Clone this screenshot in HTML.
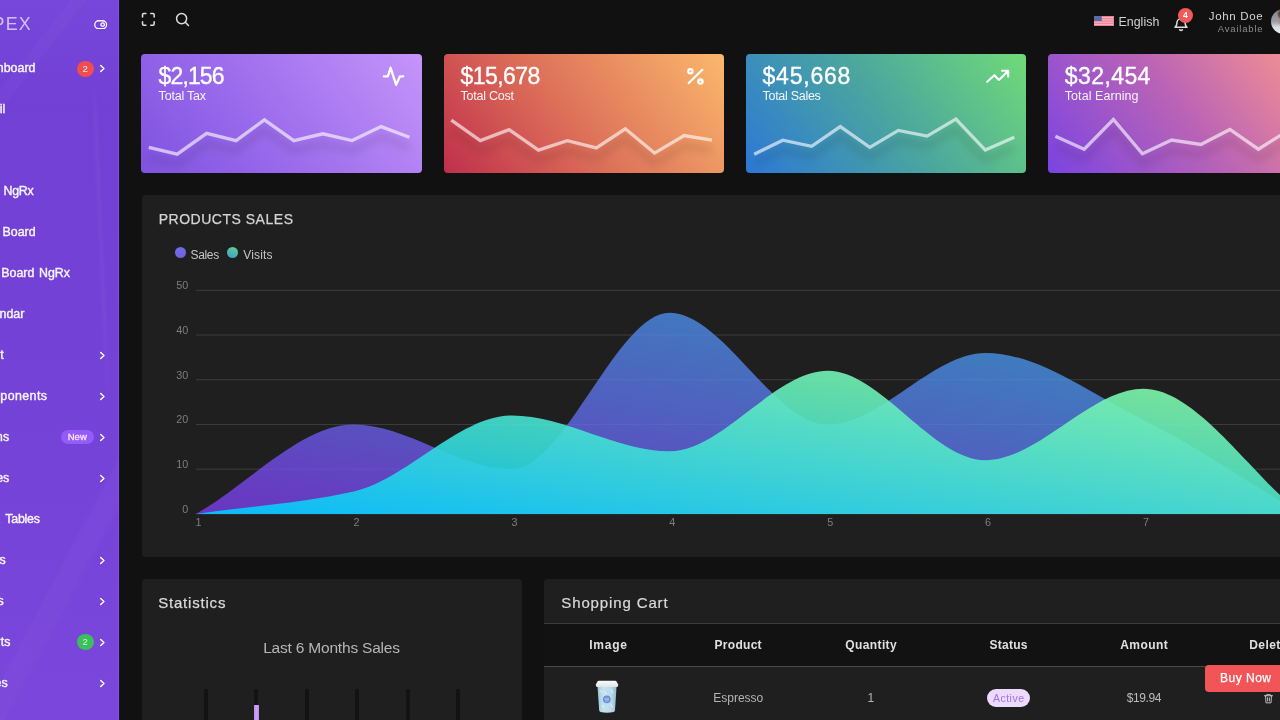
<!DOCTYPE html>
<html lang="en"><head><meta charset="utf-8"><title>Apex Dashboard</title>
<style>
*{box-sizing:border-box;margin:0;padding:0}
html,body{width:1280px;height:720px;overflow:hidden;background:#111111;font-family:"Liberation Sans",Arial,sans-serif}
body{position:relative}
.t{position:absolute;white-space:nowrap;line-height:1;display:block}
.abs{position:absolute}
#sidebar{position:absolute;left:0;top:0;width:119px;height:720px;overflow:hidden;
 background:
  linear-gradient(128deg, rgba(255,255,255,0) 54px, rgba(255,255,255,.022) 57px, rgba(255,255,255,.022) 67px, rgba(255,255,255,0) 69px),
  linear-gradient(118deg, rgba(255,255,255,0) 318px, rgba(255,255,255,.02) 322px, rgba(255,255,255,.02) 340px, rgba(255,255,255,0) 346px),
  linear-gradient(180deg, #7746da 0%, #7240d5 14%, #7341d6 40%, #7a46db 100%);
 box-shadow:inset -1px 0 0 rgba(140,120,200,.35), 1px 0 0 #1a0f3a}
.card{position:absolute;background:#1f1f1f;border-radius:3.5px}
.stat{position:absolute;top:54px;height:118.6px;width:279.9px;border-radius:4px;overflow:hidden}
.badge{position:absolute;border-radius:50%;color:#fff;text-align:center}
</style></head><body>

<div id="sidebar">
<div class="abs" style="left:89px;top:77px;width:9px;height:340px;transform-origin:50% 0;transform:rotate(-2.5deg);background:linear-gradient(90deg,rgba(255,255,255,0),rgba(255,255,255,.04) 55%,rgba(255,255,255,0));-webkit-mask-image:linear-gradient(180deg,transparent,#000 12%,#000 70%,transparent)"></div>
<span class="t" id="logo" style="right:87.10px;top:15.65px;font-size:17.9px;color:rgba(255,255,255,.66);font-weight:400;letter-spacing:0.000px;letter-spacing:1.2px">APEX</span>
<svg class="abs" style="left:94.4px;top:20px" width="13.3" height="9.4" viewBox="0 0 27 19" fill="none" stroke="#fff" stroke-width="2.6"><rect x="1.5" y="1.5" width="24" height="16" rx="8"/><circle cx="17.6" cy="9.5" r="3.5"/></svg>
<span class="t" id="nav0" style="right:83.60px;top:62.20px;font-size:12.4px;color:#fff;font-weight:400;letter-spacing:0.000px;opacity:.95;-webkit-text-stroke:.4px #fff;word-spacing:1.2px">Dashboard</span>
<svg class="abs" style="left:99px;top:64.0px" width="7" height="9" viewBox="0 0 7 9" fill="none" stroke="#fff" stroke-width="1.5" stroke-linecap="round" stroke-linejoin="round"><path d="M1.7 1.5 L4.9 4.5 L1.7 7.5"/></svg>
<div class="badge" style="left:76.6px;top:60.5px;width:17.3px;height:16.6px;background:#f04e4e;font-size:9.6px;line-height:16.8px;color:#ffe6e6">2</div>
<span class="t" id="nav1" style="right:113.80px;top:103.20px;font-size:12.4px;color:#fff;font-weight:400;letter-spacing:0.000px;opacity:.95;-webkit-text-stroke:.4px #fff;word-spacing:1.2px">Email</span>
<span class="t" id="nav2" style="right:122.00px;top:144.20px;font-size:12.4px;color:#fff;font-weight:400;letter-spacing:0.000px;opacity:.95;-webkit-text-stroke:.4px #fff;word-spacing:1.2px">Chat</span>
<span class="t" id="nav3" style="right:85.40px;top:185.20px;font-size:12.4px;color:#fff;font-weight:400;letter-spacing:-0.200px;opacity:.95;-webkit-text-stroke:.4px #fff;word-spacing:1.2px">Chat NgRx</span>
<span class="t" id="nav4" style="right:83.40px;top:226.20px;font-size:12.4px;color:#fff;font-weight:400;letter-spacing:0.000px;opacity:.95;-webkit-text-stroke:.4px #fff;word-spacing:1.2px">Task Board</span>
<span class="t" id="nav5" style="right:49.00px;top:267.20px;font-size:12.4px;color:#fff;font-weight:400;letter-spacing:0.000px;opacity:.95;-webkit-text-stroke:.4px #fff;word-spacing:1.2px">Task Board NgRx</span>
<span class="t" id="nav6" style="right:94.70px;top:308.20px;font-size:12.4px;color:#fff;font-weight:400;letter-spacing:0.000px;opacity:.95;-webkit-text-stroke:.4px #fff;word-spacing:1.2px">Calendar</span>
<span class="t" id="nav7" style="right:115.30px;top:349.20px;font-size:12.4px;color:#fff;font-weight:400;letter-spacing:0.000px;opacity:.95;-webkit-text-stroke:.4px #fff;word-spacing:1.2px">UI Kit</span>
<svg class="abs" style="left:99px;top:351.0px" width="7" height="9" viewBox="0 0 7 9" fill="none" stroke="#fff" stroke-width="1.5" stroke-linecap="round" stroke-linejoin="round"><path d="M1.7 1.5 L4.9 4.5 L1.7 7.5"/></svg>
<span class="t" id="nav8" style="right:71.58px;top:390.20px;font-size:12.4px;color:#fff;font-weight:400;letter-spacing:0.420px;opacity:.95;-webkit-text-stroke:.4px #fff;word-spacing:1.2px">Components</span>
<svg class="abs" style="left:99px;top:392.0px" width="7" height="9" viewBox="0 0 7 9" fill="none" stroke="#fff" stroke-width="1.5" stroke-linecap="round" stroke-linejoin="round"><path d="M1.7 1.5 L4.9 4.5 L1.7 7.5"/></svg>
<span class="t" id="nav9" style="right:109.40px;top:431.20px;font-size:12.4px;color:#fff;font-weight:400;letter-spacing:0.300px;opacity:.95;-webkit-text-stroke:.4px #fff;word-spacing:1.2px">Forms</span>
<svg class="abs" style="left:99px;top:433.0px" width="7" height="9" viewBox="0 0 7 9" fill="none" stroke="#fff" stroke-width="1.5" stroke-linecap="round" stroke-linejoin="round"><path d="M1.7 1.5 L4.9 4.5 L1.7 7.5"/></svg>
<div class="badge" style="left:60.5px;top:429.9px;width:33.5px;height:14.6px;border-radius:8px;background:#945afa;font-size:9.5px;line-height:14.6px;font-weight:400;color:#f8e4ff;-webkit-text-stroke:.3px #f8e4ff">New</div>
<span class="t" id="nav10" style="right:109.70px;top:472.20px;font-size:12.4px;color:#fff;font-weight:400;letter-spacing:0.000px;opacity:.95;-webkit-text-stroke:.4px #fff;word-spacing:1.2px">Tables</span>
<svg class="abs" style="left:99px;top:474.0px" width="7" height="9" viewBox="0 0 7 9" fill="none" stroke="#fff" stroke-width="1.5" stroke-linecap="round" stroke-linejoin="round"><path d="M1.7 1.5 L4.9 4.5 L1.7 7.5"/></svg>
<span class="t" id="nav11" style="right:79.20px;top:513.20px;font-size:12.4px;color:#fff;font-weight:400;letter-spacing:-0.200px;opacity:.95;-webkit-text-stroke:.4px #fff;word-spacing:2.6px">Data Tables</span>
<span class="t" id="nav12" style="right:113.40px;top:554.20px;font-size:12.4px;color:#fff;font-weight:400;letter-spacing:0.000px;opacity:.95;-webkit-text-stroke:.4px #fff;word-spacing:1.2px">Cards</span>
<svg class="abs" style="left:99px;top:556.0px" width="7" height="9" viewBox="0 0 7 9" fill="none" stroke="#fff" stroke-width="1.5" stroke-linecap="round" stroke-linejoin="round"><path d="M1.7 1.5 L4.9 4.5 L1.7 7.5"/></svg>
<span class="t" id="nav13" style="right:115.20px;top:595.20px;font-size:12.4px;color:#fff;font-weight:400;letter-spacing:0.000px;opacity:.95;-webkit-text-stroke:.4px #fff;word-spacing:1.2px">Maps</span>
<svg class="abs" style="left:99px;top:597.0px" width="7" height="9" viewBox="0 0 7 9" fill="none" stroke="#fff" stroke-width="1.5" stroke-linecap="round" stroke-linejoin="round"><path d="M1.7 1.5 L4.9 4.5 L1.7 7.5"/></svg>
<span class="t" id="nav14" style="right:108.30px;top:636.20px;font-size:12.4px;color:#fff;font-weight:400;letter-spacing:0.200px;opacity:.95;-webkit-text-stroke:.4px #fff;word-spacing:1.2px">Charts</span>
<svg class="abs" style="left:99px;top:638.0px" width="7" height="9" viewBox="0 0 7 9" fill="none" stroke="#fff" stroke-width="1.5" stroke-linecap="round" stroke-linejoin="round"><path d="M1.7 1.5 L4.9 4.5 L1.7 7.5"/></svg>
<div class="badge" style="left:76.6px;top:633.5px;width:17.3px;height:16.6px;background:#3cbe5c;font-size:9.6px;line-height:16.8px;color:#c8ffc8">2</div>
<span class="t" id="nav15" style="right:111.40px;top:677.20px;font-size:12.4px;color:#fff;font-weight:400;letter-spacing:0.000px;opacity:.95;-webkit-text-stroke:.4px #fff;word-spacing:1.2px">Pages</span>
<svg class="abs" style="left:99px;top:679.0px" width="7" height="9" viewBox="0 0 7 9" fill="none" stroke="#fff" stroke-width="1.5" stroke-linecap="round" stroke-linejoin="round"><path d="M1.7 1.5 L4.9 4.5 L1.7 7.5"/></svg>
</div>
<svg class="abs" style="left:141.1px;top:12.3px" width="14.7" height="14.7" viewBox="0 0 24 24" fill="none" stroke="#dedede" stroke-width="2.5" stroke-linecap="round" stroke-linejoin="round"><path d="M8 2.5H4.5a2 2 0 0 0-2 2V8M21.5 8V4.5a2 2 0 0 0-2-2H16M16 21.5h3.5a2 2 0 0 0 2-2V16M2.5 16v3.5a2 2 0 0 0 2 2H8"/></svg>
<svg class="abs" style="left:175.1px;top:12.1px" width="15.1" height="15.1" viewBox="0 0 24 24" fill="none" stroke="#dedede" stroke-width="2.4" stroke-linecap="round" stroke-linejoin="round"><circle cx="10.5" cy="10.5" r="8"/><path d="M21.4 21.4l-5-5"/></svg>
<svg class="abs" style="left:1094.3px;top:16.1px" width="19.8" height="10" viewBox="0 0 19.8 10">
<rect width="19.8" height="10" fill="#f6bcc6"/>
<g fill="#ee7d90"><rect y="0" width="19.8" height="1.1"/><rect y="2.2" width="19.8" height="1.2"/><rect y="4.5" width="19.8" height="1.2"/><rect y="6.7" width="19.8" height="1.1"/><rect y="8.9" width="19.8" height="1.1"/></g>
<rect width="7.8" height="5" fill="#5a6ca6"/></svg>
<span class="t" id="english" style="left:1118.50px;top:16.00px;font-size:12.4px;color:#d2d2d2;font-weight:400;letter-spacing:0.023px;">English</span>
<svg class="abs" style="left:1168px;top:10px" width="26" height="26" viewBox="1168 10 26 26" fill="none" stroke="#dcdcdc" stroke-width="1.55" stroke-linecap="round" stroke-linejoin="round"><path d="M1175 27.3 Q1176.9 25.6 1176.9 22.9 A4.1 4.1 0 0 1 1185.1 22.9 Q1185.1 25.6 1187 27.3 Z"/><path d="M1179.6 29.7 Q1181 31.1 1182.4 29.7"/></svg>
<div class="badge" style="left:1178.05px;top:7.75px;width:14.9px;height:14.9px;background:#f15a5a;font-size:8.6px;line-height:15.2px;font-weight:700">4</div>
<span class="t" id="john" style="right:16.75px;top:10.67px;font-size:11.5px;color:#d6d6d6;font-weight:400;letter-spacing:0.646px;">John Doe</span>
<span class="t" id="avail" style="right:16.60px;top:24.06px;font-size:9.5px;color:#8c8c8c;font-weight:400;letter-spacing:0.801px;">Available</span>
<div class="abs" style="left:1271.1px;top:8.8px;width:25.3px;height:25.3px;border-radius:50%;background:radial-gradient(circle at 48% 20%, #4c352d 0, #5a4037 15%, rgba(90,64,55,0) 27%),radial-gradient(circle at 47% 46%, #c29479 0, #b98a72 15%, rgba(150,150,158,0) 30%),linear-gradient(180deg,#80868f 0%,#9a9fa8 50%,#d5dbde 72%,#eef2f3 100%)"></div>
<div class="stat" style="left:141.25px;width:280.3px;background:linear-gradient(52deg,#7f52e0 0%,#9d6ded 45%,#c595fa 100%)">
<svg class="abs" style="left:0;top:0" width="280" height="119" viewBox="0 0 280 119"><defs><filter id="sh0" x="-10%" y="-50%" width="120%" height="300%"><feGaussianBlur stdDeviation="4"/></filter></defs><polyline points="7.8,93.4 36.2,100.2 65.6,79.4 95.1,86.6 123.4,65.8 152.8,86.6 181.8,79.8 211.1,86.6 240.1,72.6 268.4,83.2" fill="none" stroke="rgba(0,0,0,.14)" stroke-width="5" transform="translate(0,10)" filter="url(#sh0)"/><polyline points="7.8,93.4 36.2,100.2 65.6,79.4 95.1,86.6 123.4,65.8 152.8,86.6 181.8,79.8 211.1,86.6 240.1,72.6 268.4,83.2" fill="none" stroke="rgba(255,255,255,.62)" stroke-width="3.3" stroke-linejoin="miter"/></svg>
</div>
<span class="t" id="val0" style="left:158.60px;top:64.93px;font-size:23px;color:#fff;font-weight:400;letter-spacing:-0.877px;-webkit-text-stroke:.35px #fff">$2,156</span>
<span class="t" id="lab0" style="left:158.60px;top:89.92px;font-size:12.5px;color:rgba(255,255,255,.93);font-weight:400;letter-spacing:-0.201px;">Total Tax</span>
<svg class="abs" style="left:0;top:0" width="1280" height="180" viewBox="0 0 1280 180" fill="none" stroke="#fff" stroke-linecap="round" stroke-linejoin="round"><polyline stroke-width="2.3" points="383.9,76.3 387.8,76.3 390.6,67.8 396.1,84.9 400,76.3 403.3,76.3"/></svg>
<div class="stat" style="left:444.00px;width:279.9px;background:linear-gradient(52deg,#c02f4b 0%,#dd7059 45%,#fbb86c 100%)">
<svg class="abs" style="left:0;top:0" width="280" height="119" viewBox="0 0 280 119"><defs><filter id="sh1" x="-10%" y="-50%" width="120%" height="300%"><feGaussianBlur stdDeviation="4"/></filter></defs><polyline points="7.3,66.2 36.3,86.6 65.1,75.7 94.5,96.1 123.3,86.6 152.3,93.9 181.3,74.8 210.5,99.1 240.2,81.6 267.9,86.2" fill="none" stroke="rgba(0,0,0,.14)" stroke-width="5" transform="translate(0,10)" filter="url(#sh1)"/><polyline points="7.3,66.2 36.3,86.6 65.1,75.7 94.5,96.1 123.3,86.6 152.3,93.9 181.3,74.8 210.5,99.1 240.2,81.6 267.9,86.2" fill="none" stroke="rgba(255,255,255,.62)" stroke-width="3.3" stroke-linejoin="miter"/></svg>
</div>
<span class="t" id="val1" style="left:460.60px;top:64.93px;font-size:23px;color:#fff;font-weight:400;letter-spacing:-0.592px;-webkit-text-stroke:.35px #fff">$15,678</span>
<span class="t" id="lab1" style="left:460.60px;top:89.92px;font-size:12.5px;color:rgba(255,255,255,.93);font-weight:400;letter-spacing:-0.239px;">Total Cost</span>
<svg class="abs" style="left:0;top:0" width="1280" height="180" viewBox="0 0 1280 180" fill="none" stroke="#fff" stroke-linecap="round" stroke-linejoin="round"><g stroke-width="2.3"><line x1="688.8" y1="83" x2="702.3" y2="69.8"/><circle cx="690.4" cy="71.3" r="2.1"/><circle cx="700.4" cy="81.6" r="2.1"/></g></svg>
<div class="stat" style="left:745.80px;width:279.9px;background:linear-gradient(52deg,#2c78d6 0%,#4ba59f 50%,#70da78 100%)">
<svg class="abs" style="left:0;top:0" width="280" height="119" viewBox="0 0 280 119"><defs><filter id="sh2" x="-10%" y="-50%" width="120%" height="300%"><feGaussianBlur stdDeviation="4"/></filter></defs><polyline points="8.2,100.2 36.8,86.2 65.6,92.3 94.3,72.6 123.8,93.4 152.3,76.4 181.1,82.1 209.9,65.1 239.3,96.1 268.3,83.2" fill="none" stroke="rgba(0,0,0,.14)" stroke-width="5" transform="translate(0,10)" filter="url(#sh2)"/><polyline points="8.2,100.2 36.8,86.2 65.6,92.3 94.3,72.6 123.8,93.4 152.3,76.4 181.1,82.1 209.9,65.1 239.3,96.1 268.3,83.2" fill="none" stroke="rgba(255,255,255,.62)" stroke-width="3.3" stroke-linejoin="miter"/></svg>
</div>
<span class="t" id="val2" style="left:762.50px;top:64.93px;font-size:23px;color:#fff;font-weight:400;letter-spacing:0.794px;-webkit-text-stroke:.35px #fff">$45,668</span>
<span class="t" id="lab2" style="left:762.50px;top:89.92px;font-size:12.5px;color:rgba(255,255,255,.93);font-weight:400;letter-spacing:-0.278px;">Total Sales</span>
<svg class="abs" style="left:0;top:0" width="1280" height="180" viewBox="0 0 1280 180" fill="none" stroke="#fff" stroke-linecap="round" stroke-linejoin="round"><g stroke-width="2.1"><polyline points="987.2,81.8 994.4,75.2 998.9,79.9 1007.6,71.4"/><polyline points="1002,70.7 1008.2,70.7 1008.2,76.6"/></g></svg>
<div class="stat" style="left:1047.60px;width:279.9px;background:linear-gradient(52deg,#7a44e2 0%,#bb64b5 50%,#ff9a8b 100%)">
<svg class="abs" style="left:0;top:0" width="280" height="119" viewBox="0 0 280 119"><defs><filter id="sh3" x="-10%" y="-50%" width="120%" height="300%"><feGaussianBlur stdDeviation="4"/></filter></defs><polyline points="7.4,82.2 36.2,95.2 65.4,65.5 94.4,99.8 123.6,86.0 152.9,90.5 181.9,75.5 210.4,95.2 239.4,77.0 268.4,86.0" fill="none" stroke="rgba(0,0,0,.14)" stroke-width="5" transform="translate(0,10)" filter="url(#sh3)"/><polyline points="7.4,82.2 36.2,95.2 65.4,65.5 94.4,99.8 123.6,86.0 152.9,90.5 181.9,75.5 210.4,95.2 239.4,77.0 268.4,86.0" fill="none" stroke="rgba(255,255,255,.62)" stroke-width="3.3" stroke-linejoin="miter"/></svg>
</div>
<span class="t" id="val3" style="left:1064.80px;top:64.93px;font-size:23px;color:#fff;font-weight:400;letter-spacing:0.408px;-webkit-text-stroke:.35px #fff">$32,454</span>
<span class="t" id="lab3" style="left:1064.80px;top:89.92px;font-size:12.5px;color:rgba(255,255,255,.93);font-weight:400;letter-spacing:0.056px;">Total Earning</span>
<div class="card" style="left:141.7px;top:195px;width:1200px;height:361.5px"></div>
<span class="t" id="ps" style="left:158.70px;top:212.35px;font-size:14px;color:#d4d4d4;font-weight:400;letter-spacing:0.515px;-webkit-text-stroke:.25px #d4d4d4">PRODUCTS SALES</span>
<div class="abs" style="left:174.8px;top:246.8px;width:11.4px;height:11.4px;border-radius:50%;background:linear-gradient(160deg,#6673ee,#7a5bd6)"></div>
<span class="t" id="lsales" style="left:190.60px;top:248.74px;font-size:12px;color:#c6c6c6;font-weight:400;letter-spacing:-0.366px;">Sales</span>
<div class="abs" style="left:226.8px;top:246.8px;width:11.4px;height:11.4px;border-radius:50%;background:linear-gradient(200deg,#63d38f,#3c9ccf)"></div>
<span class="t" id="lvisits" style="left:243.30px;top:248.74px;font-size:12px;color:#c6c6c6;font-weight:400;letter-spacing:0.158px;">Visits</span>
<svg class="abs" style="left:0;top:0" width="1280" height="720" viewBox="0 0 1280 720">
<defs>
<linearGradient id="gS" x1="0" y1="1" x2="1" y2="0"><stop offset="0" stop-color="#843cf7"/><stop offset="1" stop-color="#38b8f2"/></linearGradient>
<linearGradient id="gV" x1="0" y1="1" x2="1" y2="0"><stop offset="0" stop-color="#00c9ff"/><stop offset="1" stop-color="#92fe9d"/></linearGradient>
</defs>
<line x1="196" x2="1320" y1="513.90" y2="513.90" stroke="#3d3d3d" stroke-width="1"/>
<line x1="196" x2="1320" y1="469.18" y2="469.18" stroke="#3d3d3d" stroke-width="1"/>
<line x1="196" x2="1320" y1="424.46" y2="424.46" stroke="#3d3d3d" stroke-width="1"/>
<line x1="196" x2="1320" y1="379.74" y2="379.74" stroke="#3d3d3d" stroke-width="1"/>
<line x1="196" x2="1320" y1="335.02" y2="335.02" stroke="#3d3d3d" stroke-width="1"/>
<line x1="196" x2="1320" y1="290.30" y2="290.30" stroke="#3d3d3d" stroke-width="1"/>
<path d="M196.0,513.9C248.6,484.1 301.3,424.5 353.9,424.5C406.5,424.5 459.2,469.2 511.8,469.2C564.4,469.2 617.1,312.7 669.7,312.7C722.3,312.7 775.0,424.5 827.6,424.5C880.2,424.5 932.9,352.9 985.5,352.9C1038.1,352.9 1090.8,393.9 1143.4,420.0C1196.0,446.1 1248.7,482.6 1301.3,513.9L1301.3,513.9L196.0,513.9Z" fill="url(#gS)" fill-opacity=".75"/>
<path d="M196.0,513.9C248.6,506.4 301.3,503.1 353.9,491.5C406.5,480.0 459.2,415.5 511.8,415.5C564.4,415.5 617.1,451.3 669.7,451.3C722.3,451.3 775.0,370.8 827.6,370.8C880.2,370.8 932.9,460.2 985.5,460.2C1038.1,460.2 1090.8,388.7 1143.4,388.7C1196.0,388.7 1248.7,472.2 1301.3,513.9L1301.3,513.9L196.0,513.9Z" fill="url(#gV)" fill-opacity=".9"/>
<text x="188.3" y="512.8" text-anchor="end" font-size="10.8" fill="#7e7e7e" font-family="Liberation Sans,Arial,sans-serif">0</text>
<text x="188.3" y="468.1" text-anchor="end" font-size="10.8" fill="#7e7e7e" font-family="Liberation Sans,Arial,sans-serif">10</text>
<text x="188.3" y="423.4" text-anchor="end" font-size="10.8" fill="#7e7e7e" font-family="Liberation Sans,Arial,sans-serif">20</text>
<text x="188.3" y="378.6" text-anchor="end" font-size="10.8" fill="#7e7e7e" font-family="Liberation Sans,Arial,sans-serif">30</text>
<text x="188.3" y="333.9" text-anchor="end" font-size="10.8" fill="#7e7e7e" font-family="Liberation Sans,Arial,sans-serif">40</text>
<text x="188.3" y="289.2" text-anchor="end" font-size="10.8" fill="#7e7e7e" font-family="Liberation Sans,Arial,sans-serif">50</text>
<text x="195.6" y="526.3" font-size="10.8" fill="#7e7e7e" font-family="Liberation Sans,Arial,sans-serif">1</text>
<text x="353.5" y="526.3" font-size="10.8" fill="#7e7e7e" font-family="Liberation Sans,Arial,sans-serif">2</text>
<text x="511.4" y="526.3" font-size="10.8" fill="#7e7e7e" font-family="Liberation Sans,Arial,sans-serif">3</text>
<text x="669.3" y="526.3" font-size="10.8" fill="#7e7e7e" font-family="Liberation Sans,Arial,sans-serif">4</text>
<text x="827.2" y="526.3" font-size="10.8" fill="#7e7e7e" font-family="Liberation Sans,Arial,sans-serif">5</text>
<text x="985.1" y="526.3" font-size="10.8" fill="#7e7e7e" font-family="Liberation Sans,Arial,sans-serif">6</text>
<text x="1143.0" y="526.3" font-size="10.8" fill="#7e7e7e" font-family="Liberation Sans,Arial,sans-serif">7</text>
<text x="1300.9" y="526.3" font-size="10.8" fill="#7e7e7e" font-family="Liberation Sans,Arial,sans-serif">8</text>
</svg>
<div class="card" style="left:141.9px;top:579.2px;width:380px;height:200px"></div>
<span class="t" id="stat" style="left:158.20px;top:595.30px;font-size:15px;color:#dadada;font-weight:400;letter-spacing:0.798px;-webkit-text-stroke:.25px #dadada">Statistics</span>
<span class="t" id="l6m" style="left:331.50px;transform:translateX(-50%);top:640.48px;font-size:15.5px;color:#b6b6b6;font-weight:400;letter-spacing:-0.203px;">Last 6 Months Sales</span>
<div class="abs" style="left:204.0px;top:689.3px;width:4px;height:40px;background:#131313;border-radius:1px 1px 0 0"></div>
<div class="abs" style="left:254.4px;top:689.3px;width:4px;height:40px;background:#131313;border-radius:1px 1px 0 0"></div>
<div class="abs" style="left:304.9px;top:689.3px;width:4px;height:40px;background:#131313;border-radius:1px 1px 0 0"></div>
<div class="abs" style="left:355.4px;top:689.3px;width:4px;height:40px;background:#131313;border-radius:1px 1px 0 0"></div>
<div class="abs" style="left:405.8px;top:689.3px;width:4px;height:40px;background:#131313;border-radius:1px 1px 0 0"></div>
<div class="abs" style="left:456.2px;top:689.3px;width:4px;height:40px;background:#131313;border-radius:1px 1px 0 0"></div>
<div class="abs" style="left:254.1px;top:704.6px;width:4.7px;height:20px;background:linear-gradient(90deg,#b78fea,#caa2f8 50%,#b78fea)"></div>
<div class="card" style="left:544.2px;top:579.2px;width:800px;height:200px"></div>
<span class="t" id="sc" style="left:561.30px;top:595.30px;font-size:15px;color:#dadada;font-weight:400;letter-spacing:0.869px;-webkit-text-stroke:.2px #dadada">Shopping Cart</span>
<div class="abs" style="left:544px;top:623.2px;width:800px;height:43.6px;background:#121212;border-top:1px solid #3c3c3c;border-bottom:1.4px solid #4a4a4a"></div>
<span class="t" id="hImage" style="left:608.48px;transform:translateX(-50%);top:639.14px;font-size:12px;color:#e0e0e0;font-weight:700;letter-spacing:0.762px;">Image</span>
<span class="t" id="hProduct" style="left:738.24px;transform:translateX(-50%);top:639.14px;font-size:12px;color:#e0e0e0;font-weight:700;letter-spacing:0.279px;">Product</span>
<span class="t" id="hQuantity" style="left:871.19px;transform:translateX(-50%);top:639.14px;font-size:12px;color:#e0e0e0;font-weight:700;letter-spacing:0.379px;">Quantity</span>
<span class="t" id="hStatus" style="left:1008.61px;transform:translateX(-50%);top:639.14px;font-size:12px;color:#e0e0e0;font-weight:700;letter-spacing:0.219px;">Status</span>
<span class="t" id="hAmount" style="left:1144.22px;transform:translateX(-50%);top:639.14px;font-size:12px;color:#e0e0e0;font-weight:700;letter-spacing:0.445px;">Amount</span>
<span class="t" id="hDelete" style="left:1249.30px;top:639.14px;font-size:12px;color:#e0e0e0;font-weight:700;letter-spacing:0.411px;">Delete</span>
<svg class="abs" style="left:590px;top:676px" width="34" height="40" viewBox="590 676 34 40">
<defs><linearGradient id="cup" x1="0" x2="1" y1="0" y2="0"><stop offset="0" stop-color="#9cc7dc"/><stop offset=".3" stop-color="#c4e2ee"/><stop offset=".7" stop-color="#bcdcea"/><stop offset="1" stop-color="#8fb9cf"/></linearGradient>
<linearGradient id="lid" x1="0" x2="0" y1="0" y2="1"><stop offset="0" stop-color="#fbfbfb"/><stop offset="1" stop-color="#dfe4e5"/></linearGradient></defs>
<path d="M597.5 686 L616.6 686 L615 710.6 Q614.9 711.6 613.8 711.9 Q607.1 713.4 600.4 711.9 Q599.3 711.6 599.2 710.6 Z" fill="url(#cup)"/>
<path d="M599.2 680.7 L615 680.7 Q616.4 680.7 616.8 682 L617.6 683.6 Q618.3 684 618.2 685 L618 686 Q617.8 686.9 616.8 686.9 L597.2 686.9 Q596.2 686.9 596 686 L595.8 685 Q595.7 684 596.4 683.6 L597.2 682 Q597.6 680.7 599.2 680.7 Z" fill="url(#lid)"/>
<path d="M600 690 l2.5 3 M611 689.5 l2 3.5 M602 705 l2 3 M610.5 704 l2.5 3.5 M605 691.5 l.8 2.2" stroke="#e9f4f8" stroke-width="1.1" opacity=".8" fill="none"/>
<circle cx="606.8" cy="699.3" r="3.9" fill="#5c80d2" opacity=".85"/>
<path d="M604.6 698.2 h4.4 M604.4 699.6 h4.8 M605 701 h3.6" stroke="#cfe0f6" stroke-width=".7" opacity=".85"/>
</svg>
<span class="t" id="esp" style="left:738.30px;transform:translateX(-50%);top:692.24px;font-size:12px;color:#b4b4b4;font-weight:400;letter-spacing:-0.004px;">Espresso</span>
<span class="t" id="qty" style="left:870.80px;transform:translateX(-50%);top:692.24px;font-size:12px;color:#b4b4b4;font-weight:400;letter-spacing:0.000px;">1</span>
<div class="abs" style="left:987px;top:689.3px;width:43px;height:18.2px;border-radius:9.1px;background:#ecdaff"></div>
<span class="t" id="active" style="left:1008.74px;transform:translateX(-50%);top:693.01px;font-size:10.5px;color:#a273e3;font-weight:400;letter-spacing:0.484px;">Active</span>
<span class="t" id="price" style="left:1143.90px;transform:translateX(-50%);top:692.34px;font-size:12px;color:#bcbcbc;font-weight:400;letter-spacing:-0.401px;">$19.94</span>
<svg class="abs" style="left:1262.5px;top:692.5px" width="11" height="11" viewBox="0 0 24 24" fill="none" stroke="#c4c4c4" stroke-width="2.1" stroke-linecap="round" stroke-linejoin="round"><path d="M3 6h18M8 6V3.5h8V6M5.5 6l1 15.5h11l1-15.5M10 10.5v7M14 10.5v7"/></svg>
<div class="abs" style="left:1205px;top:665.2px;width:90px;height:26.6px;border-radius:4px;background:#f25558"></div>
<span class="t" id="buy" style="left:1220.00px;top:671.84px;font-size:12px;color:#fff;font-weight:400;letter-spacing:0.496px;-webkit-text-stroke:.25px #fff">Buy Now</span>
</body></html>
